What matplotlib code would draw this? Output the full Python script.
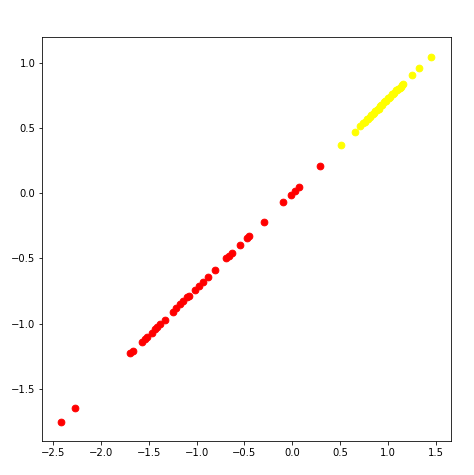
import matplotlib
matplotlib.use("Agg")
import matplotlib.pyplot as plt

# Class 0 (red)
red_x = [-2.42, -2.27, -1.69, -1.66, -1.57, -1.54, -1.52, -1.47, -1.43, -1.41,
         -1.38, -1.33, -1.25, -1.21, -1.17, -1.14, -1.10, -1.08, -1.02, -0.97,
         -0.93, -0.88, -0.81, -0.69, -0.66, -0.63, -0.55, -0.47, -0.45, -0.30,
         -0.10, -0.01, 0.03, 0.07, 0.29]
red_y = [-1.76, -1.65, -1.23, -1.21, -1.14, -1.12, -1.10, -1.07, -1.04, -1.03,
         -1.00, -0.97, -0.91, -0.88, -0.85, -0.83, -0.80, -0.79, -0.74, -0.71,
         -0.68, -0.64, -0.59, -0.50, -0.48, -0.46, -0.40, -0.34, -0.33, -0.22,
         -0.07, -0.01, 0.02, 0.05, 0.21]

# Class 1 (yellow)
yellow_x = [0.505, 0.65, 0.71, 0.74, 0.76, 0.78, 0.79, 0.81, 0.82, 0.84, 0.85,
            0.86, 0.88, 0.89, 0.90, 0.92, 0.93, 0.94, 0.96, 0.97, 0.98, 1.00,
            1.01, 1.02, 1.04, 1.05, 1.06, 1.08, 1.09, 1.10, 1.12, 1.13, 1.14,
            1.16, 1.25, 1.32, 1.445]
yellow_y = [0.37, 0.47, 0.52, 0.54, 0.55, 0.57, 0.57, 0.59, 0.60, 0.61, 0.62,
            0.63, 0.64, 0.65, 0.65, 0.67, 0.68, 0.68, 0.70, 0.71, 0.71, 0.73,
            0.73, 0.74, 0.76, 0.76, 0.77, 0.79, 0.79, 0.80, 0.81, 0.82, 0.83,
            0.84, 0.91, 0.96, 1.05]

fig = plt.figure(figsize=(474 / 72, 475 / 72), dpi=72)
ax = fig.add_axes([42.3 / 474, 1 - 440.7 / 475, (450.7 - 42.3) / 474, (440.7 - 36.7) / 475])
ax.scatter(red_x, red_y, c="red", s=45)
ax.scatter(yellow_x, yellow_y, c="yellow", s=45)
ax.set_xlim(-2.61, 1.653)
ax.set_ylim(-1.90, 1.203)
ax.set_xticks([-2.5, -2.0, -1.5, -1.0, -0.5, 0.0, 0.5, 1.0, 1.5])
ax.set_yticks([-1.5, -1.0, -0.5, 0.0, 0.5, 1.0])
fig.savefig("out.png", dpi=72)
